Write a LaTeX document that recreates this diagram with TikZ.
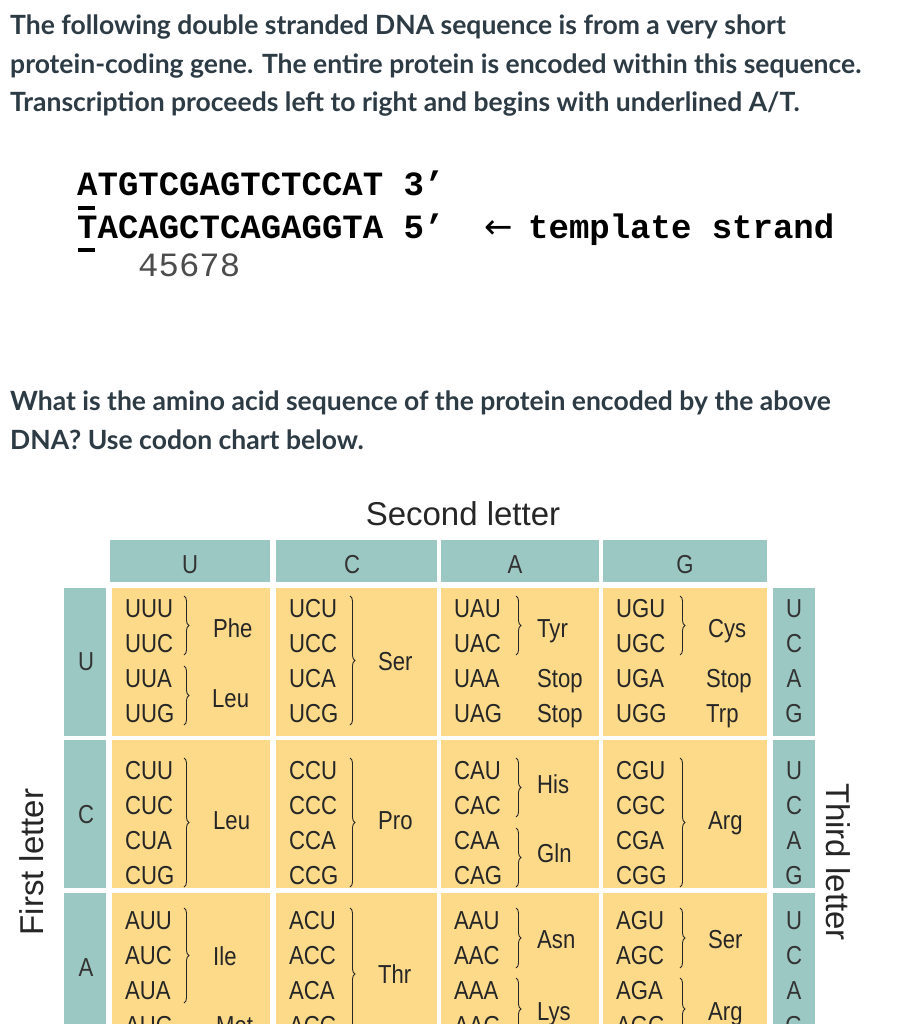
\documentclass[tikz,border=0pt]{standalone}
\usepackage{fontspec}
\setmainfont{Liberation Sans}
\newfontfamily\cond[FakeStretch=0.85]{Liberation Sans}
\newfontfamily\lato{Lato}
\newfontfamily\cour{Liberation Mono}
\newfontfamily\djfont{DejaVu Sans}
\usetikzlibrary{decorations.pathreplacing}
\definecolor{tealc}{HTML}{9CC8C4}
\definecolor{yel}{HTML}{FDD98A}
\definecolor{txt}{HTML}{2D3B45}
\tikzset{
 title/.style={anchor=base west,inner sep=0,font=\lato\bfseries\fontsize{26.5}{30}\selectfont,text=txt},
 dna/.style={anchor=base west,inner sep=0,font=\cour\bfseries\fontsize{34}{38}\selectfont},
 cd/.style={anchor=base west,inner sep=0,font=\cond\fontsize{26}{28}\selectfont,text=black!85},
 hd/.style={anchor=base,inner sep=0,font=\cond\fontsize{26}{28}\selectfont,text=black!80},
 big/.style={inner sep=0,font=\fontsize{33}{35}\selectfont,text=black!85},
 brc/.style={decorate,decoration={brace,amplitude=5pt},line width=0.9pt,black!85}
}
\begin{document}
\begin{tikzpicture}[x=1pt,y=-1pt]
\useasboundingbox (0,0) rectangle (901,1024);
\fill[white] (0,0) rectangle (901,1024);
\begin{scope}
\clip (0,0) rectangle (901,1024);
% title
\node[title] (t1) at (10,35) {The following double stranded DNA sequence is from a very short};
\node[title] (t2) at (10,74) {protein-coding gene. The entire protein is encoded within this sequence.};
\node[title] (t3) at (10,112) {Transcription proceeds left to right and begins with underlined A/T.};
% dna
\node[dna] (s1) at (77,196) {ATGTCGAGTCTCCAT 3\textquoteright};
\node[dna] (s2) at (77,238) {TACAGCTCAGAGGTA 5\textquoteright};
\node[anchor=base west,inner sep=0,font=\djfont\fontsize{34}{36}\selectfont] (ar) at (484,238) {←};
\node[dna] (s3) at (528,238) {template strand};
\node[anchor=base west,inner sep=0,font=\cour\fontsize{34}{38}\selectfont,text=black!70] (s4) at (138,276) {45678};
\fill (78,206) rectangle (95,210);
\fill (78,248) rectangle (95,252);
% question
\node[title] (q1) at (10,410) {What is the amino acid sequence of the protein encoded by the above};
\node[title] (q2) at (10,449) {DNA? Use codon chart below.};
% chart
\node[big,anchor=base] (sl) at (463,525) {Second letter};
\node[big,rotate=90,anchor=center] (fl) at (32,862) {First letter};
\node[big,rotate=-90,anchor=center] (tl) at (838,862) {Third letter};
\fill[tealc] (110,540) rectangle (767,582);
\foreach \y/\h in {588/736,740/888,893/1060}{
 \fill[tealc] (64,\y) rectangle (106,\h);
 \fill[tealc] (773,\y) rectangle (815,\h);
 \foreach \a/\b in {112/270,276/437,441/599,603/767}{\fill[yel] (\a,\y) rectangle (\b,\h);}
}
\fill[white] (270,540) rectangle (276,582);
\fill[white] (437,540) rectangle (441,582);
\fill[white] (599,540) rectangle (603,582);
\foreach \l/\x [count=\i] in {U/190,C/352,A/515,G/685}{\node[hd] (h\i) at (\x,573) {\l};}
\foreach \l/\y [count=\i] in {U/670,C/823,A/976}{\node[hd] (f\i) at (86,\y) {\l};}
% third letters
\foreach \yy [count=\r] in {617,779,929}{
 \foreach \l/\d [count=\i] in {U/0,C/35,A/70,G/105}{
  \node[hd] (th\r\i) at (794,\yy+\d) {\l};}}
% codons
\foreach \pre [count=\r] in {U,C,A}{
 \pgfmathsetmacro\yb{\r==1 ? 617 : (\r==2 ? 779 : 929)}
 \foreach \sec/\x [count=\c] in {U/125,C/289,A/454,G/616}{
  \foreach \th/\d [count=\k] in {U/0,C/35,A/70,G/105}{
   \node[cd] (c\r\c\k) at (\x,\yb+\d) {\pre\sec\th};}}}
% braces U row
\draw[brc] (184,596) -- (184,655);
\node[cd] (phe) at (213,637) {Phe};
\draw[brc] (184,666) -- (184,725);
\node[cd] (leu1) at (212,707) {Leu};
\draw[brc] (350,596) -- (350,725);
\node[cd] (ser1) at (378,670) {Ser};
\draw[brc] (516,596) -- (516,655);
\node[cd] (tyr) at (537,637) {Tyr};
\node[cd] (st1) at (537,687) {Stop};
\node[cd] (st2) at (537,722) {Stop};
\draw[brc] (680,596) -- (680,655);
\node[cd] (cys) at (708,637) {Cys};
\node[cd] (st3) at (706,687) {Stop};
\node[cd] (trp) at (706,722) {Trp};
% C row
\draw[brc] (184,758) -- (184,887);
\node[cd] (leu2) at (213,829) {Leu};
\draw[brc] (350,758) -- (350,887);
\node[cd] (pro) at (378,829) {Pro};
\draw[brc] (516,758) -- (516,817);
\node[cd] (his) at (537,793) {His};
\draw[brc] (516,828) -- (516,887);
\node[cd] (gln) at (537,862) {Gln};
\draw[brc] (680,758) -- (680,887);
\node[cd] (arg1) at (708,829) {Arg};
% A row
\draw[brc] (184,908) -- (184,1003);
\node[cd] (ile) at (213,965) {Ile};
\node[cd] (met) at (216,1034) {Met};
\draw[brc] (350,908) -- (350,1040);
\node[cd] (thr) at (378,983) {Thr};
\draw[brc] (516,908) -- (516,968);
\node[cd] (asn) at (537,948) {Asn};
\draw[brc] (516,978) -- (516,1040);
\node[cd] (lys) at (537,1020) {Lys};
\draw[brc] (680,908) -- (680,968);
\node[cd] (ser2) at (708,948) {Ser};
\draw[brc] (680,978) -- (680,1040);
\node[cd] (arg2) at (708,1020) {Arg};
\end{scope}
\end{tikzpicture}
\end{document}
